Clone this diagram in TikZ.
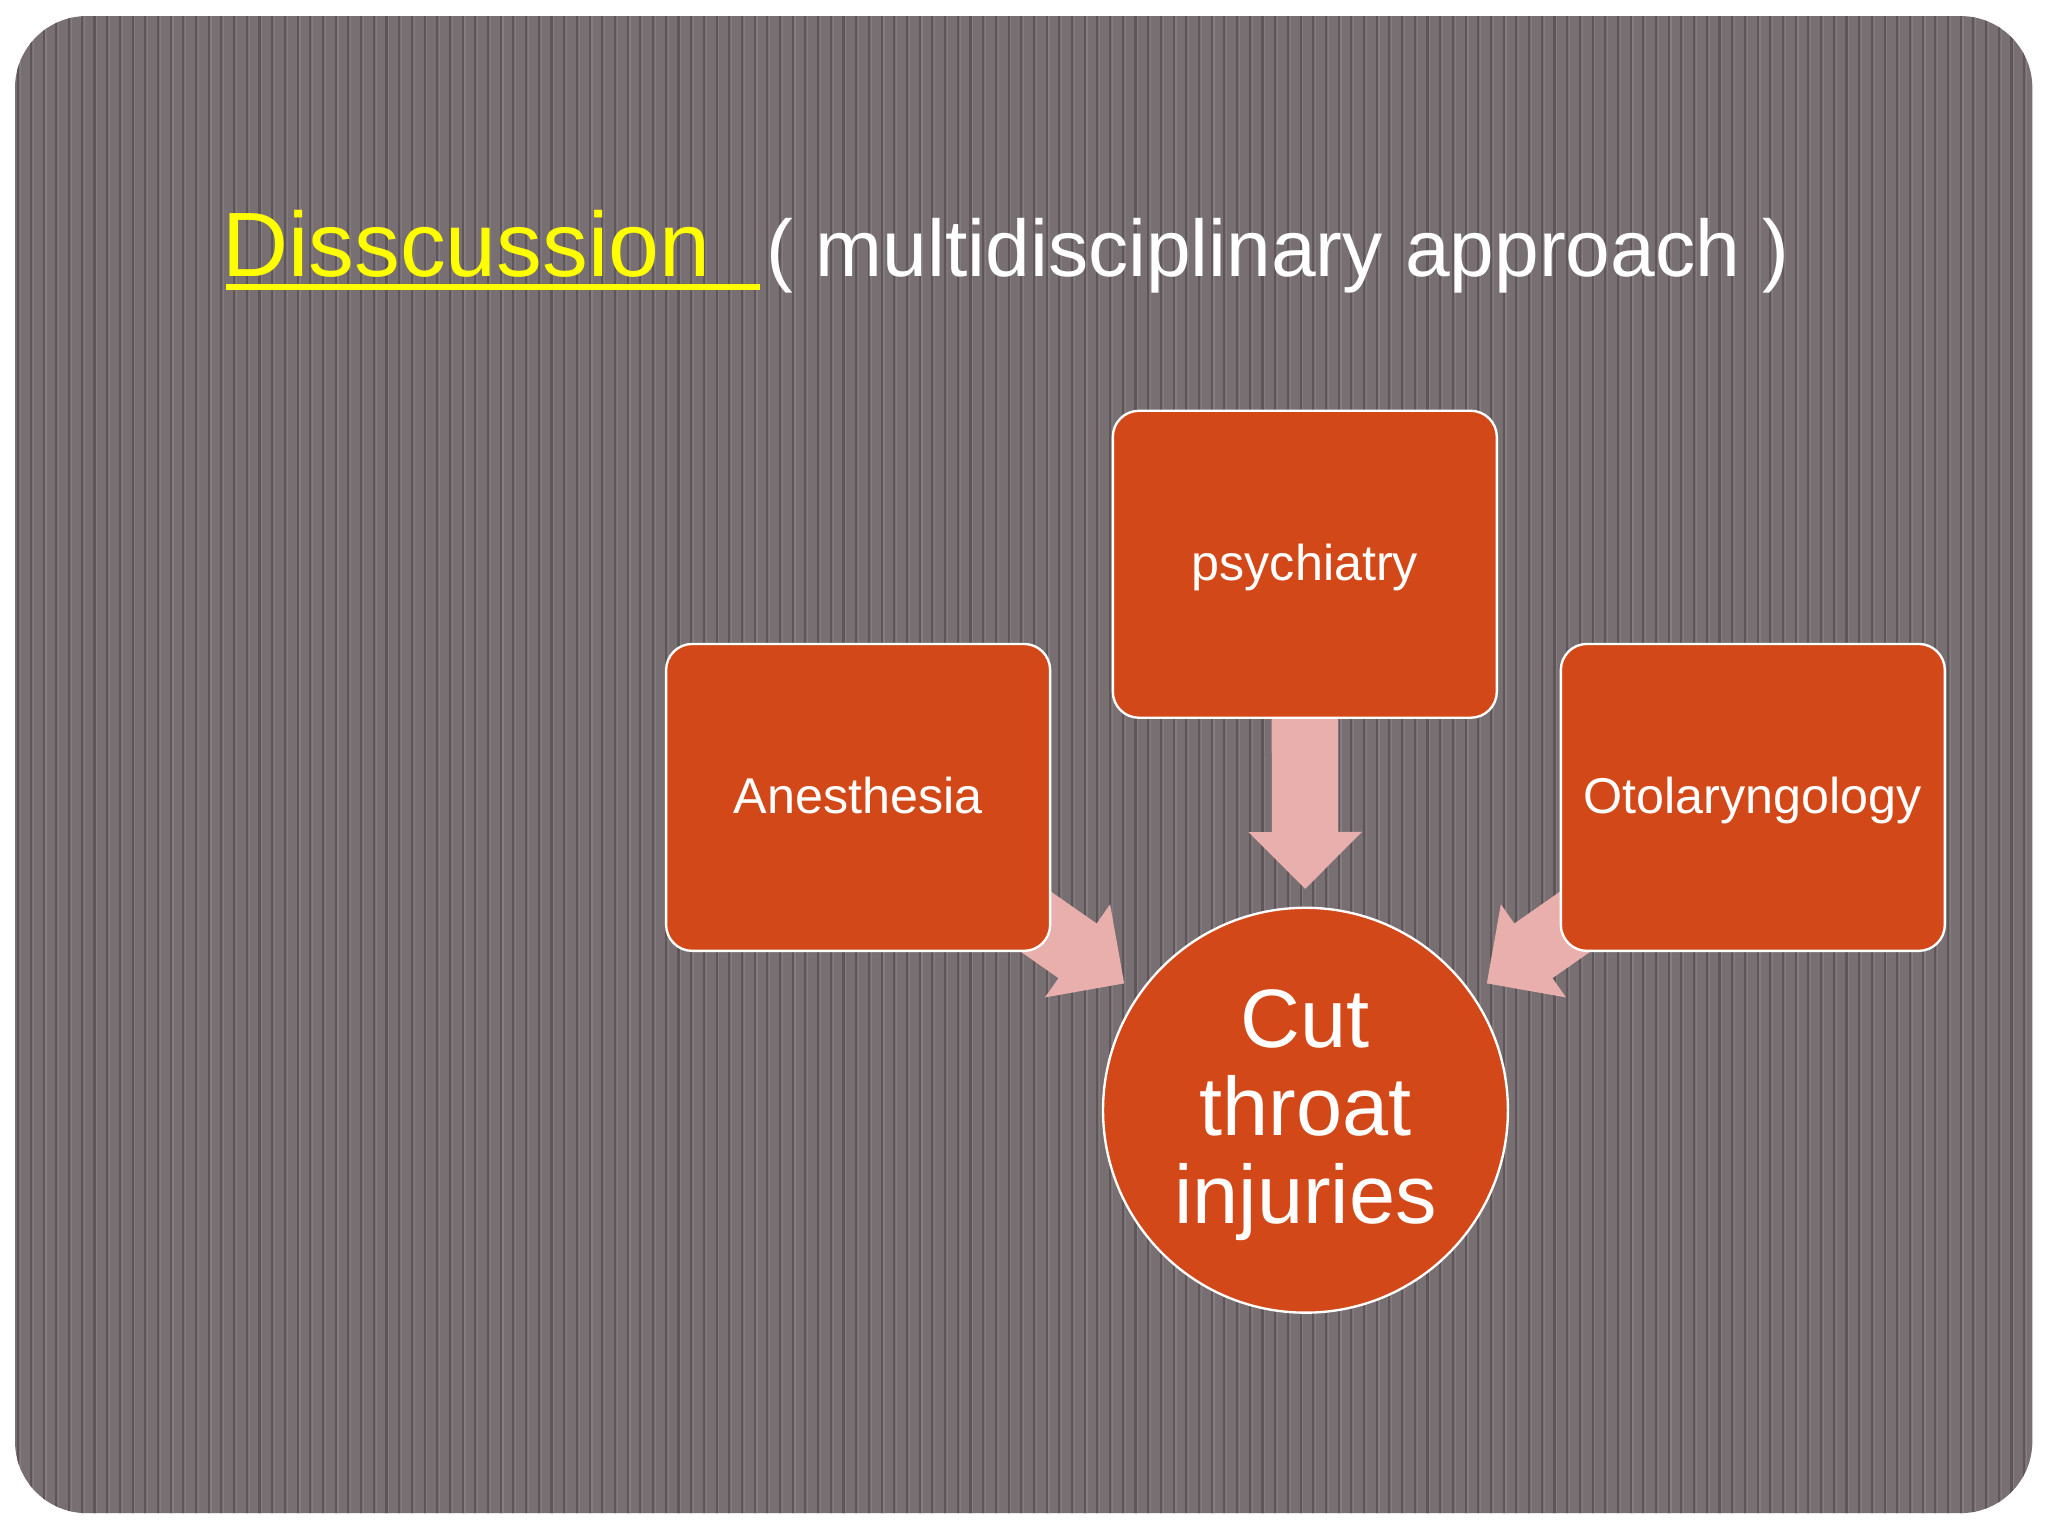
\documentclass[tikz,border=0pt]{standalone}
\usepackage{fontspec}
\setmainfont{Liberation Sans}
\usetikzlibrary{calc}
\definecolor{bgbase}{HTML}{776F72}
\definecolor{bgdark}{HTML}{5D5558}
\definecolor{bglight}{HTML}{857D80}
\definecolor{boxfill}{HTML}{D24818}
\definecolor{arrowpink}{HTML}{E8AFAD}
\definecolor{titleyellow}{HTML}{FFFF00}
\pgfdeclarelayer{bglayer}
\pgfdeclarelayer{arrlayer}
\pgfsetlayers{bglayer,arrlayer,main}
\newcommand{\blockarrow}[2]{%
  \coordinate (#1-hb) at ($(#1.center)!205pt!(#2.center)$);
  \coordinate (#1-tip) at ($(#1.center)!248.5pt!(#2.center)$);
  \fill[arrowpink] ($(#1.center)!25.5pt!90:(#2.center)$)
    -- ($(#1-hb)!25.5pt!90:(#2.center)$)
    -- ($(#1-hb)!43.5pt!90:(#2.center)$)
    -- (#1-tip)
    -- ($(#1-hb)!43.5pt!-90:(#2.center)$)
    -- ($(#1-hb)!25.5pt!-90:(#2.center)$)
    -- ($(#1.center)!25.5pt!-90:(#2.center)$) -- cycle;
}
\tikzset{
  boxnode/.style={draw=white, line width=1.8pt, fill=boxfill, rounded corners=20pt,
    minimum width=294pt, minimum height=235pt, text=white, inner sep=0pt,
    font=\fontsize{38.5}{46}\selectfont, text height=30pt, text depth=5pt},
  circnode/.style={circle, draw=white, line width=1.8pt, fill=boxfill,
    minimum size=310pt, inner sep=0pt},
  bigtext/.style={align=center, text=white, inner sep=0pt,
    font=\fontsize{63.5}{67.5}\selectfont},
}
\begin{document}
\begin{tikzpicture}[x=1pt,y=-1pt]
\useasboundingbox (0,0) rectangle (1568,1176);
\begin{pgfonlayer}{bglayer}
  \fill[white] (0,0) rectangle (1568,1176);
  \fill[bgbase, rounded corners=55pt] (11.5,12.3) rectangle (1556,1158.5);
  \begin{scope}
    \clip[rounded corners=55pt] (11.5,12.3) rectangle (1556,1158.5);
    \foreach \i in {0,...,160} {
      \pgfmathsetmacro{\xx}{14+9.72*\i}
      \draw[bgdark, line width=1.6pt] (\xx,0) -- (\xx,1176);
      \draw[bglight, line width=0.9pt] (\xx+1.8,0) -- (\xx+1.8,1176);
    }
  \end{scope}
\end{pgfonlayer}

% title
\node[anchor=base west, inner sep=0pt, text=titleyellow,
  font=\fontsize{70}{84}\selectfont] (title) at (170,212) {Disscussion};
\draw[titleyellow, line width=4.5pt] ($(title.base west)+(3,8)$) -- ($(title.base west)+(412,8)$);
\node[anchor=base west, inner sep=0pt, text=white,
  font=\fontsize{61.5}{73}\selectfont] (subtitle) at (587,212) {( multidisciplinary approach )};

% nodes
\node[boxnode] (psy) at (999,432) {psychiatry};
\node[boxnode] (ane) at (657,610.5) {Anesthesia};
\node[boxnode] (oto) at (1342,610.5) {Otolaryngology};
\node[circnode] (cut) at (999.5,850) {};
\node[bigtext] (cuttext) at (999.5,854) {Cut\\throat\\injuries};

% arrows
\begin{pgfonlayer}{arrlayer}
  \blockarrow{psy}{cut}
  \blockarrow{ane}{cut}
  \blockarrow{oto}{cut}
\end{pgfonlayer}
\end{tikzpicture}
\end{document}
